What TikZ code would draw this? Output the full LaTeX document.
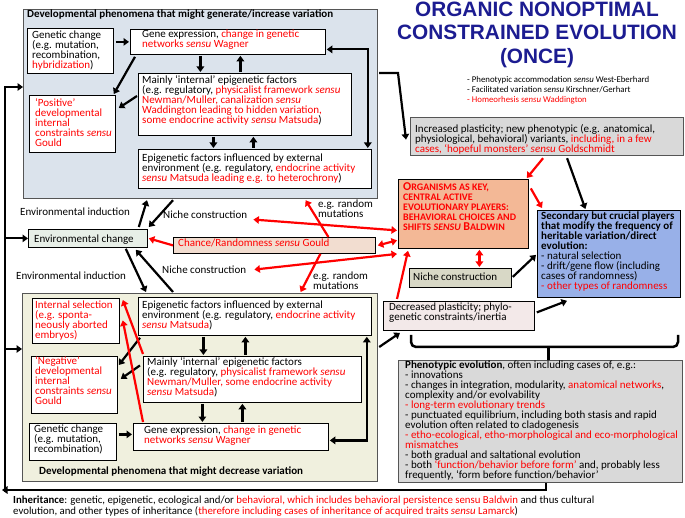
\documentclass[tikz,border=0pt]{standalone}
\usepackage{fontspec}
\setmainfont{Carlito}
\newfontfamily\titlefont{Liberation Sans}
\usetikzlibrary{arrows.meta,calc}
\definecolor{topfill}{RGB}{219,227,236}
\definecolor{botfill}{RGB}{240,240,222}
\definecolor{envfill}{RGB}{231,239,231}
\definecolor{chfill}{RGB}{242,221,208}
\definecolor{orgfill}{RGB}{243,184,150}
\definecolor{secfill}{RGB}{152,176,232}
\definecolor{nichefill}{RGB}{216,216,198}
\definecolor{decfill}{RGB}{243,233,233}
\definecolor{grayfill}{RGB}{217,217,217}
\definecolor{titleblue}{RGB}{28,28,145}
\definecolor{myred}{RGB}{255,0,0}
\definecolor{outline}{RGB}{85,85,85}
\newcommand\R[1]{\textcolor{myred}{#1}}
\newcommand\SC[1]{{\fontsize{10}{10.4}\selectfont #1}}
\newcommand\BC[1]{{\fontsize{12}{10.4}\selectfont #1}}
\AtBeginDocument{\lineskiplimit=-20pt\lineskip=0pt}
\tikzset{
  txt/.style={font=\fontsize{11}{10}\selectfont, align=left, inner sep=0pt, anchor=north west},
  ibox/.style={draw=black, line width=0.8pt},
  obox/.style={draw=outline, line width=1.2pt},
  arr/.style={line width=2.2pt, -{Triangle[length=5.5pt,width=7.5pt]}},
  darr/.style={line width=2.2pt, {Triangle[length=5.5pt,width=7.5pt]}-{Triangle[length=5.5pt,width=7.5pt]}},
  rarr/.style={arr, color=myred},
  rdarr/.style={darr, color=myred}
}
% name, x1, y1, x2, y2, style, text x, text y, text
\newcommand\bx[9]{%
  \node[#6, anchor=north west, minimum width={(#4)-(#2)}, minimum height={(#5)-(#3)}, inner sep=0pt] (#1) at (#2,#3) {};
  \node[txt] (#1-t) at (#7,#8) {#9};
}
\begin{document}
\begin{tikzpicture}[x=1pt,y=-1pt]
\useasboundingbox (0,0) rectangle (685,518);
\fill[white] (0,0) rectangle (685,518);

% ---------- outer boxes
\node[obox, fill=topfill, anchor=north west, minimum width=354, minimum height=189, inner sep=0pt] (topouter) at (23,9) {};
\node[obox, fill=botfill, anchor=north west, minimum width=355, minimum height=188, inner sep=0pt] (botouter) at (22,293) {};
\node[txt, font={\fontsize{11}{10}\selectfont\bfseries}] (toplbl) at (27,10) {Developmental phenomena that might generate/increase variation};
\node[txt, font={\fontsize{11}{10}\selectfont\bfseries}] (botlbl) at (39,466.5) {Developmental phenomena that might decrease variation};

% ---------- title
\node[font={\titlefont\bfseries\fontsize{20.8}{23.5}\selectfont}, text=titleblue, align=center, anchor=north, inner sep=0pt] (title) at (537,1.5) {ORGANIC NONOPTIMAL\\CONSTRAINED EVOLUTION\\(ONCE)};
\node[txt, font=\fontsize{8.8}{10}\selectfont] (bul) at (467,76) {- Phenotypic accommodation \textit{sensu} West-Eberhard\\- Facilitated variation \textit{sensu} Kirschner/Gerhart\\\R{- Homeorhesis \textit{sensu} Waddington}};

% ---------- top box contents
\bx{gc1}{27}{28}{113}{73}{ibox,fill=white}{32}{30.5}{Genetic change\\(e.g. mutation,\\recombination,\\\R{hybridization})}
\bx{ge1}{130}{29}{325}{54}{ibox,fill=white}{142}{30}{Gene expression, \R{change in genetic}\\\R{networks \textit{sensu} Wagner}}
\bx{mi1}{138}{73}{351}{135}{ibox,fill=white}{142}{75.5}{Mainly ‘internal’ epigenetic factors\\(e.g. regulatory, \R{physicalist framework \textit{sensu}}\\\R{Newman/Muller, canalization \textit{sensu}}\\\R{Waddington leading to hidden variation,}\\\R{some endocrine activity \textit{sensu} Matsuda})}
\bx{pos1}{29}{95}{115}{152}{ibox,fill=white}{35}{98.5}{\R{‘Positive’}\\\R{developmental}\\\R{internal}\\\R{constraints \textit{sensu}}\\\R{Gould}}
\bx{ee1}{138}{149}{371}{188}{ibox,fill=white}{142}{153.5}{Epigenetic factors influenced by external\\environment (e.g. regulatory, \R{endocrine activity}\\\R{\textit{sensu} Matsuda leading e.g. to heterochrony})}

% ---------- middle
\bx{env}{28}{229}{147}{247}{ibox,fill=envfill}{34}{234.5}{Environmental change}
\bx{chance}{173}{237}{375}{253}{ibox,fill=chfill}{178}{238.5}{\R{Chance/Randomness \textit{sensu} Gould}}
\node[txt] (ei1) at (20,207.5) {Environmental induction};
\node[txt] (nc1) at (163,210.5) {Niche construction};
\node[txt] (ei2) at (16,271.5) {Environmental induction};
\node[txt] (nc2) at (162,265.5) {Niche construction};
\node[txt] (rm1) at (318,199.5) {e.g. random\\mutations};
\node[txt] (rm2) at (313,271.5) {e.g. random\\mutations};

% ---------- bottom box contents
\bx{is}{32}{298}{119}{343}{ibox,fill=white}{35}{300.5}{\R{Internal selection}\\\R{(e.g. sponta-}\\\R{neously aborted}\\\R{embryos)}}
\bx{ee2}{138}{297}{371}{335}{ibox,fill=white}{142}{301}{Epigenetic factors influenced by external\\environment (e.g. regulatory, \R{endocrine activity}\\\R{\textit{sensu} Matsuda})}
\bx{neg}{31}{356}{117}{413}{ibox,fill=white}{35}{356.5}{\R{‘Negative’}\\\R{developmental}\\\R{internal}\\\R{constraints \textit{sensu}}\\\R{Gould}}
\bx{mi2}{143}{356}{361}{402}{ibox,fill=white}{147}{357}{Mainly ‘internal’ epigenetic factors\\(e.g. regulatory, \R{physicalist framework \textit{sensu}}\\\R{Newman/Muller, some endocrine activity}\\\R{\textit{sensu} Matsuda})}
\bx{gc2}{29}{423}{116}{460}{ibox,fill=white}{34}{424.5}{Genetic change\\(e.g. mutation,\\recombination)}
\bx{ge2}{133}{423}{328}{450}{ibox,fill=white}{144}{426}{Gene expression, \R{change in genetic}\\\R{networks \textit{sensu} Wagner}}

% ---------- right side
\bx{inc}{410}{117}{683}{155}{draw=outline,line width=1.2pt,fill=grayfill}{415}{124}{Increased plasticity; new phenotypic (e.g. anatomical,\\physiological, behavioral) variants, \R{including, in a few}\\\R{cases, ‘hopeful monsters’ \textit{sensu} Goldschmidt}}
\bx{org}{398}{179}{528}{248}{ibox,fill=orgfill}{403}{182}{\fontsize{10}{10.4}\selectfont\R{\bfseries\BC{O}\SC{RGANISMS AS KEY},}\\\R{\bfseries\SC{CENTRAL ACTIVE}}\\\R{\bfseries\SC{EVOLUTIONARY PLAYERS:}}\\\R{\bfseries\SC{BEHAVIORAL CHOICES AND}}\\\R{\bfseries\SC{SHIFTS} \textit{\SC{SENSU}} \BC{B}\SC{ALDWIN}}}
\bx{sec}{537}{210}{680}{297}{ibox,fill=secfill}{541}{211.5}{\textbf{Secondary but crucial players}\\\textbf{that modify the frequency of}\\\textbf{heritable variation/direct}\\\textbf{evolution:}\\- natural selection\\- drift/gene flow (including\\cases of randomness)\\\R{- other types of randomness}}
\bx{niche}{409}{268}{511}{287}{ibox,fill=nichefill}{413}{273}{Niche construction}
\bx{dec}{383}{301}{534}{330}{ibox,fill=decfill}{389}{303}{\fontsize{11}{14}\selectfont Decreased plasticity; phylo-\\genetic constraints/inertia}
\bx{phen}{398}{360}{682}{482}{draw=outline,line width=1.2pt,fill=grayfill}{405}{360.5}{\textbf{Phenotypic evolution}, often including cases of, e.g.:\\- innovations\\- changes in integration, modularity, \R{anatomical networks},\\complexity and/or evolvability\\\R{- long-term evolutionary trends}\\- punctuated equilibrium, including both stasis and rapid\\evolution often related to cladogenesis\\\R{- etho-ecological, etho-morphological and eco-morphological}\\\R{mismatches}\\- both gradual and saltational evolution\\- both \R{‘function/behavior before form’} and, probably less\\frequently, ‘form before function/behavior’}

% ---------- inheritance
\node[txt, font=\fontsize{10.8}{11}\selectfont] (inh) at (13,495.5) {\textbf{Inheritance}: genetic, epigenetic, ecological and/or \R{behavioral, which includes behavioral persistence sensu Baldwin} and thus cultural\\evolution, and other types of inheritance (\R{therefore including cases of inheritance of acquired traits \textit{sensu} Lamarck})};

% ---------- top box arrows
\draw[arr] ($(gc1.east |- ge1.west)+(2,0)$) -- ($(ge1.west)+(-1,0)$);
\draw[arr] ($(ge1.south west)+(5,2)$) -- ($(pos1.north east)+(-2,-1)$);
\draw[arr] ($(mi1.north west)+(-1,23)$) -- ($(pos1.north east)+(3,13)$);
\draw[arr] ($(ge1.south)+(-27.5,1)$) -- ($(mi1.north)+(-44.5,-1)$);
\draw[arr] ($(mi1.north)+(-4.5,-1)$) -- ($(ge1.south)+(12.5,1)$);
\draw[arr] ($(mi1.south)+(-31.5,1)$) -- ($(ee1.north)+(-41.5,-1)$);
\draw[arr] ($(ee1.north)+(-1.5,-1)$) -- ($(mi1.south)+(8.5,1)$);
\draw[darr] ($(ge1.east)+(1,7.5)$) -| ($(ee1.north east)+(-4,-1)$);

% ---------- environment arrows
\draw[arr] ($(env.north east)+(-9,-2)$) -- ($(topouter.south west)+(124,1)$);
\draw[arr] ($(topouter.south west)+(150,1)$) -- ($(env.north east)+(1,-2)$);
\draw[arr] ($(env.south east)+(-22,1)$) -- ($(botouter.north west)+(124,-1)$);
\draw[arr] ($(botouter.north west)+(151,-1)$) -- ($(env.south east)+(-12,2)$);

% ---------- trunk on the left
\coordinate (tcorner) at (2,490);
\coordinate (tt) at (5,87);
\coordinate (tbot) at (5,492);
\coordinate (tbb) at (5,349);
\draw[arr] ($(phen.south)+(5,0)$) |- (tcorner);
\draw[arr] (tbot) -- (tt) -- (tt -| topouter.west);
\draw[arr] (tt |- env.west) -- (env.west);
\draw[arr] (tbb) -- (tbb -| botouter.west);

% ---------- right side arrows
\coordinate (b1c) at (398,73);
\draw[arr] ($(topouter.north east)+(1,64)$) -- (b1c) -- ($(inc.west)+(-4,3)$);
\draw[arr] ($(inc.south)+(20,2)$) -- ($(sec.north)+(-23.5,-1)$);
\draw[arr] ($(niche.east)+(1,-1)$) -- ($(sec.west)+(-1,1)$);
\draw[arr] ($(dec.east)+(2,-3.5)$) -- ($(sec.south west)+(30,3)$);
\draw[arr] ($(botouter.north east)+(1,54)$) -- ($(dec.south west)+(17,2)$);

% ---------- brace
\draw[line width=2.5pt, rounded corners=5pt] (411,335) -- (411,347) -- (678,347) -- (678,335);
\draw[line width=2.5pt] ($(phen.north)+(8,-13)$) -- ($(phen.north)+(8,0)$);

% ---------- bottom box arrows
\draw[arr] ($(ee2.south)+(-51.5,1)$) -- ($(mi2.north)+(-49,-1)$);
\draw[arr] ($(mi2.north)+(-7,-1)$) -- ($(ee2.south)+(-9.5,1)$);
\draw[arr] ($(mi2.south)+(-50,1)$) -- ($(ge2.north)+(-28.5,-1)$);
\draw[arr] ($(ge2.north)+(11.5,-1)$) -- ($(mi2.south)+(-10,1)$);
\draw[arr] ($(gc2.east |- ge2.west)+(2,-2.5)$) -- ($(ge2.west)+(-1,-2.5)$);
\draw[darr] ($(ge2.east)+(1,3.5)$) -| ($(ee2.south east)+(-5,1)$);
\draw[arr] ($(ee2.south west)+(2,2)$) -- ($(neg.north east)+(1,9)$);
\draw[arr] ($(mi2.west)+(-3,-14)$) -- ($(neg.east)+(3,-6)$);

% ---------- red arrows
\draw[rarr] ($(mi2.north west)+(0,-2)$) -- ($(is.north east)+(3,2)$);
\draw[rarr] ($(ge2.north west)+(10,-1)$) -- ($(is.east)+(3,-0.5)$);
\draw[rarr] (chance.west) -- ($(env.east)+(1,0)$);
\draw[rarr] ($(chance.north)+(54,0)$) -- ($(topouter.south)+(105,1)$);
\draw[rarr] ($(chance.south)+(46,0)$) -- ($(botouter.north)+(100.5,-1)$);
\draw[rdarr] ($(nc1.east)+(6,5)$) -- ($(org.west)+(-1,16.5)$);
\draw[rdarr] ($(nc2.east)+(8,0)$) -- ($(org.west)+(-1,40)$);
\draw[rdarr] ($(chance.east)+(2,0)$) -- ($(org.west)+(-1,26.5)$);
\draw[rarr] ($(inc.south)+(-4,2)$) -- ($(org.north east)+(-2,-1)$);
\draw[rarr] ($(org.east)+(2,-25.5)$) -- ($(sec.north west)+(5,-2)$);
\draw[rdarr] ($(org.south)+(16,1)$) -- ($(niche.north)+(19,-1)$);
\draw[rarr] ($(dec.north west)+(14,-2)$) -- ($(org.south west)+(10,2)$);
\end{tikzpicture}
\end{document}
